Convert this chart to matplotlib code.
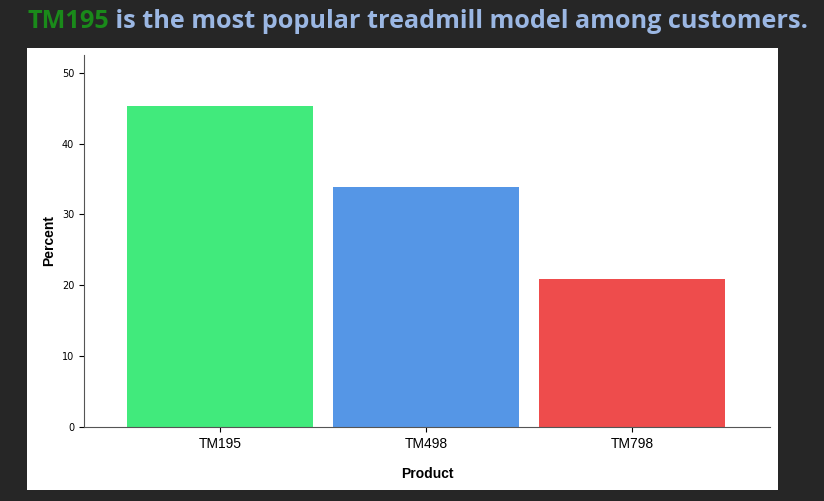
import matplotlib
matplotlib.use("Agg")
import matplotlib.pyplot as plt
from matplotlib.patches import Rectangle

products = ["TM195", "TM498", "TM798"]
percent = [45.3, 33.9, 20.9]
colors = ["#41ea7c", "#5596e6", "#ee4c4c"]

fig = plt.figure(figsize=(8.24, 5.01), dpi=100, facecolor="#262626")
fig.patches.append(Rectangle((27/824, 1-490/501), (778-27)/824, (490-48)/501,
                             transform=fig.transFigure, facecolor="white", zorder=-10))
ax = fig.add_axes([84/824, 1-427/501, (770-84)/824, (427-55)/501])
ax.set_zorder(5)
ax.set_facecolor("white")
ax.bar(range(len(products)), percent, width=0.9, color=colors)
ax.set_xticks(range(len(products)))
ax.set_xticklabels(products, fontsize=10, family="Liberation Sans")
ax.set_xlim(-0.66, 2.67)
ax.set_ylim(0, 52.5)
ax.set_yticks([0, 10, 20, 30, 40, 50])
ax.tick_params(axis="y", labelsize=7)
for s in ["top", "right"]:
    ax.spines[s].set_visible(False)
ax.spines["left"].set_color("#555555")
ax.spines["bottom"].set_color("#555555")
ax.set_ylabel("Percent", fontsize=10, fontweight="bold", family="Liberation Sans")
ax.set_xlabel("Product", fontsize=10, fontweight="bold", family="Liberation Sans", labelpad=12)

fs = 18.2
t1 = fig.text(27/824, 1-22/501, "TM195", color="#1a8a1a", fontsize=fs, fontweight="bold",
              family="Open Sans", va="center", ha="left")
fig.canvas.draw()
bb = t1.get_window_extent()
x2 = bb.x1 / fig.bbox.width
fig.text(x2, 1-22/501, " is the most popular treadmill model among customers.", color="#9bb7e3",
         fontsize=fs, fontweight="bold", family="Open Sans", va="center", ha="left")
fig.savefig("out.png", dpi=100, facecolor=fig.get_facecolor())
